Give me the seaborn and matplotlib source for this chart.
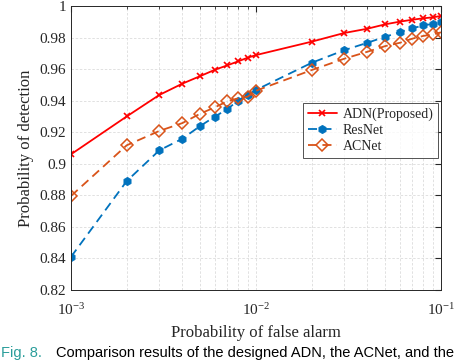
import numpy as np
import pandas as pd
import matplotlib
matplotlib.use("Agg")
import matplotlib.pyplot as plt
import seaborn as sns
from matplotlib.ticker import LogLocator, NullFormatter, FixedLocator

pfa = [1e-3, 2e-3, 3e-3, 4e-3, 5e-3, 6e-3, 7e-3, 8e-3, 9e-3,
       1e-2, 2e-2, 3e-2, 4e-2, 5e-2, 6e-2, 7e-2, 8e-2, 9e-2, 1e-1]
adn = [0.906, 0.930, 0.9436, 0.9508, 0.9556, 0.9596, 0.9624, 0.9649, 0.9672,
       0.9689, 0.9774, 0.9829, 0.9856, 0.9884, 0.9901, 0.9913, 0.9922, 0.9928, 0.9937]
resnet = [0.841, 0.889, 0.9085, 0.9159, 0.924, 0.9299, 0.9347, 0.940, 0.9436,
          0.9468, 0.964, 0.972, 0.9767, 0.9805, 0.9835, 0.9858, 0.9877, 0.9886, 0.9897]
acnet = [0.8796, 0.9117, 0.9208, 0.9258, 0.9318, 0.9358, 0.9396, 0.9415, 0.9425,
         0.9463, 0.9594, 0.9666, 0.971, 0.9746, 0.9767, 0.9793, 0.981, 0.982, 0.9833]
yticks = [0.82, 0.84, 0.86, 0.88, 0.9, 0.92, 0.94, 0.96, 0.98, 1]
ytick_labels = ["0.82", "0.84", "0.86", "0.88", "0.9", "0.92", "0.94", "0.96", "0.98", "1"]

sns.set_style("white")
plt.rcParams['font.family'] = ['Liberation Serif', 'DejaVu Serif']
plt.rcParams['mathtext.fontset'] = 'stix'

fig = plt.figure(figsize=(4.74, 3.61), dpi=100)
ax = fig.add_axes([71/474, 1-290/361, (441-71)/474, (290-6)/361])

df = pd.DataFrame({"pfa": pfa, "ADN(Proposed)": adn, "ResNet": resnet, "ACNet": acnet})

sns.lineplot(data=df, x="pfa", y="ADN(Proposed)", ax=ax, color="#FF0000", lw=1.3,
             marker="x", markersize=5, mew=1.2, mec="#FF0000", label="ADN(Proposed)")
sns.lineplot(data=df, x="pfa", y="ResNet", ax=ax, color="#0072BD", lw=1.3, linestyle=(0, (5, 3)),
             marker="h", markersize=6, mew=0.5, mec="#0072BD", label="ResNet")
sns.lineplot(data=df, x="pfa", y="ACNet", ax=ax, color="#D95319", lw=1.3, linestyle=(0, (5, 3)),
             marker="D", markersize=6, mfc="none", mec="#D95319", mew=1.1, label="ACNet")

ax.set_xscale("log")
ax.set_xlim(1e-3, 1e-1)
ax.set_ylim(0.82, 1.0)
ax.yaxis.set_major_locator(FixedLocator(yticks))
ax.set_yticklabels(ytick_labels)
ax.xaxis.set_major_locator(LogLocator(base=10, numticks=10))
ax.xaxis.set_minor_locator(LogLocator(base=10, subs=np.arange(2, 10), numticks=20))
ax.xaxis.set_minor_formatter(NullFormatter())

ax.grid(True, which="major", color="#dcdcdc", lw=0.6, ls=(0, (3, 2)))
ax.grid(True, which="minor", axis="x", color="#dcdcdc", lw=0.6, ls=(0, (3, 2)))
ax.tick_params(which="both", direction="in", top=True, right=True, labelsize=11, color="#262626")
ax.tick_params(which="major", length=4)
ax.tick_params(which="minor", length=2.5)
ax.tick_params(axis="x", pad=9)
for s in ax.spines.values():
    s.set_color("#262626")
    s.set_linewidth(0.7)

ax.set_xlabel("Probability of false alarm", fontsize=12, labelpad=5)
ax.set_ylabel("Probability of detection", fontsize=12, labelpad=4)

leg = ax.legend(loc="upper left", bbox_to_anchor=((303-71)/370, (290-103)/284),
                fontsize=10, frameon=True, fancybox=False, edgecolor="#262626",
                handlelength=2.1, borderpad=0.35, labelspacing=0.2, handletextpad=0.4,
                borderaxespad=0)
leg.get_frame().set_linewidth(0.7)

t1 = fig.text(0.002, 0.002, "Fig. 8.", fontsize=10.5, family="Liberation Sans",
              color="#2a9d9a", va="bottom", ha="left")
fig.text(0.118, 0.002, "Comparison results of the designed ADN, the ACNet, and the",
         fontsize=10.5, family="Liberation Sans", color="black", va="bottom", ha="left")

fig.savefig("out.png", dpi=100)
